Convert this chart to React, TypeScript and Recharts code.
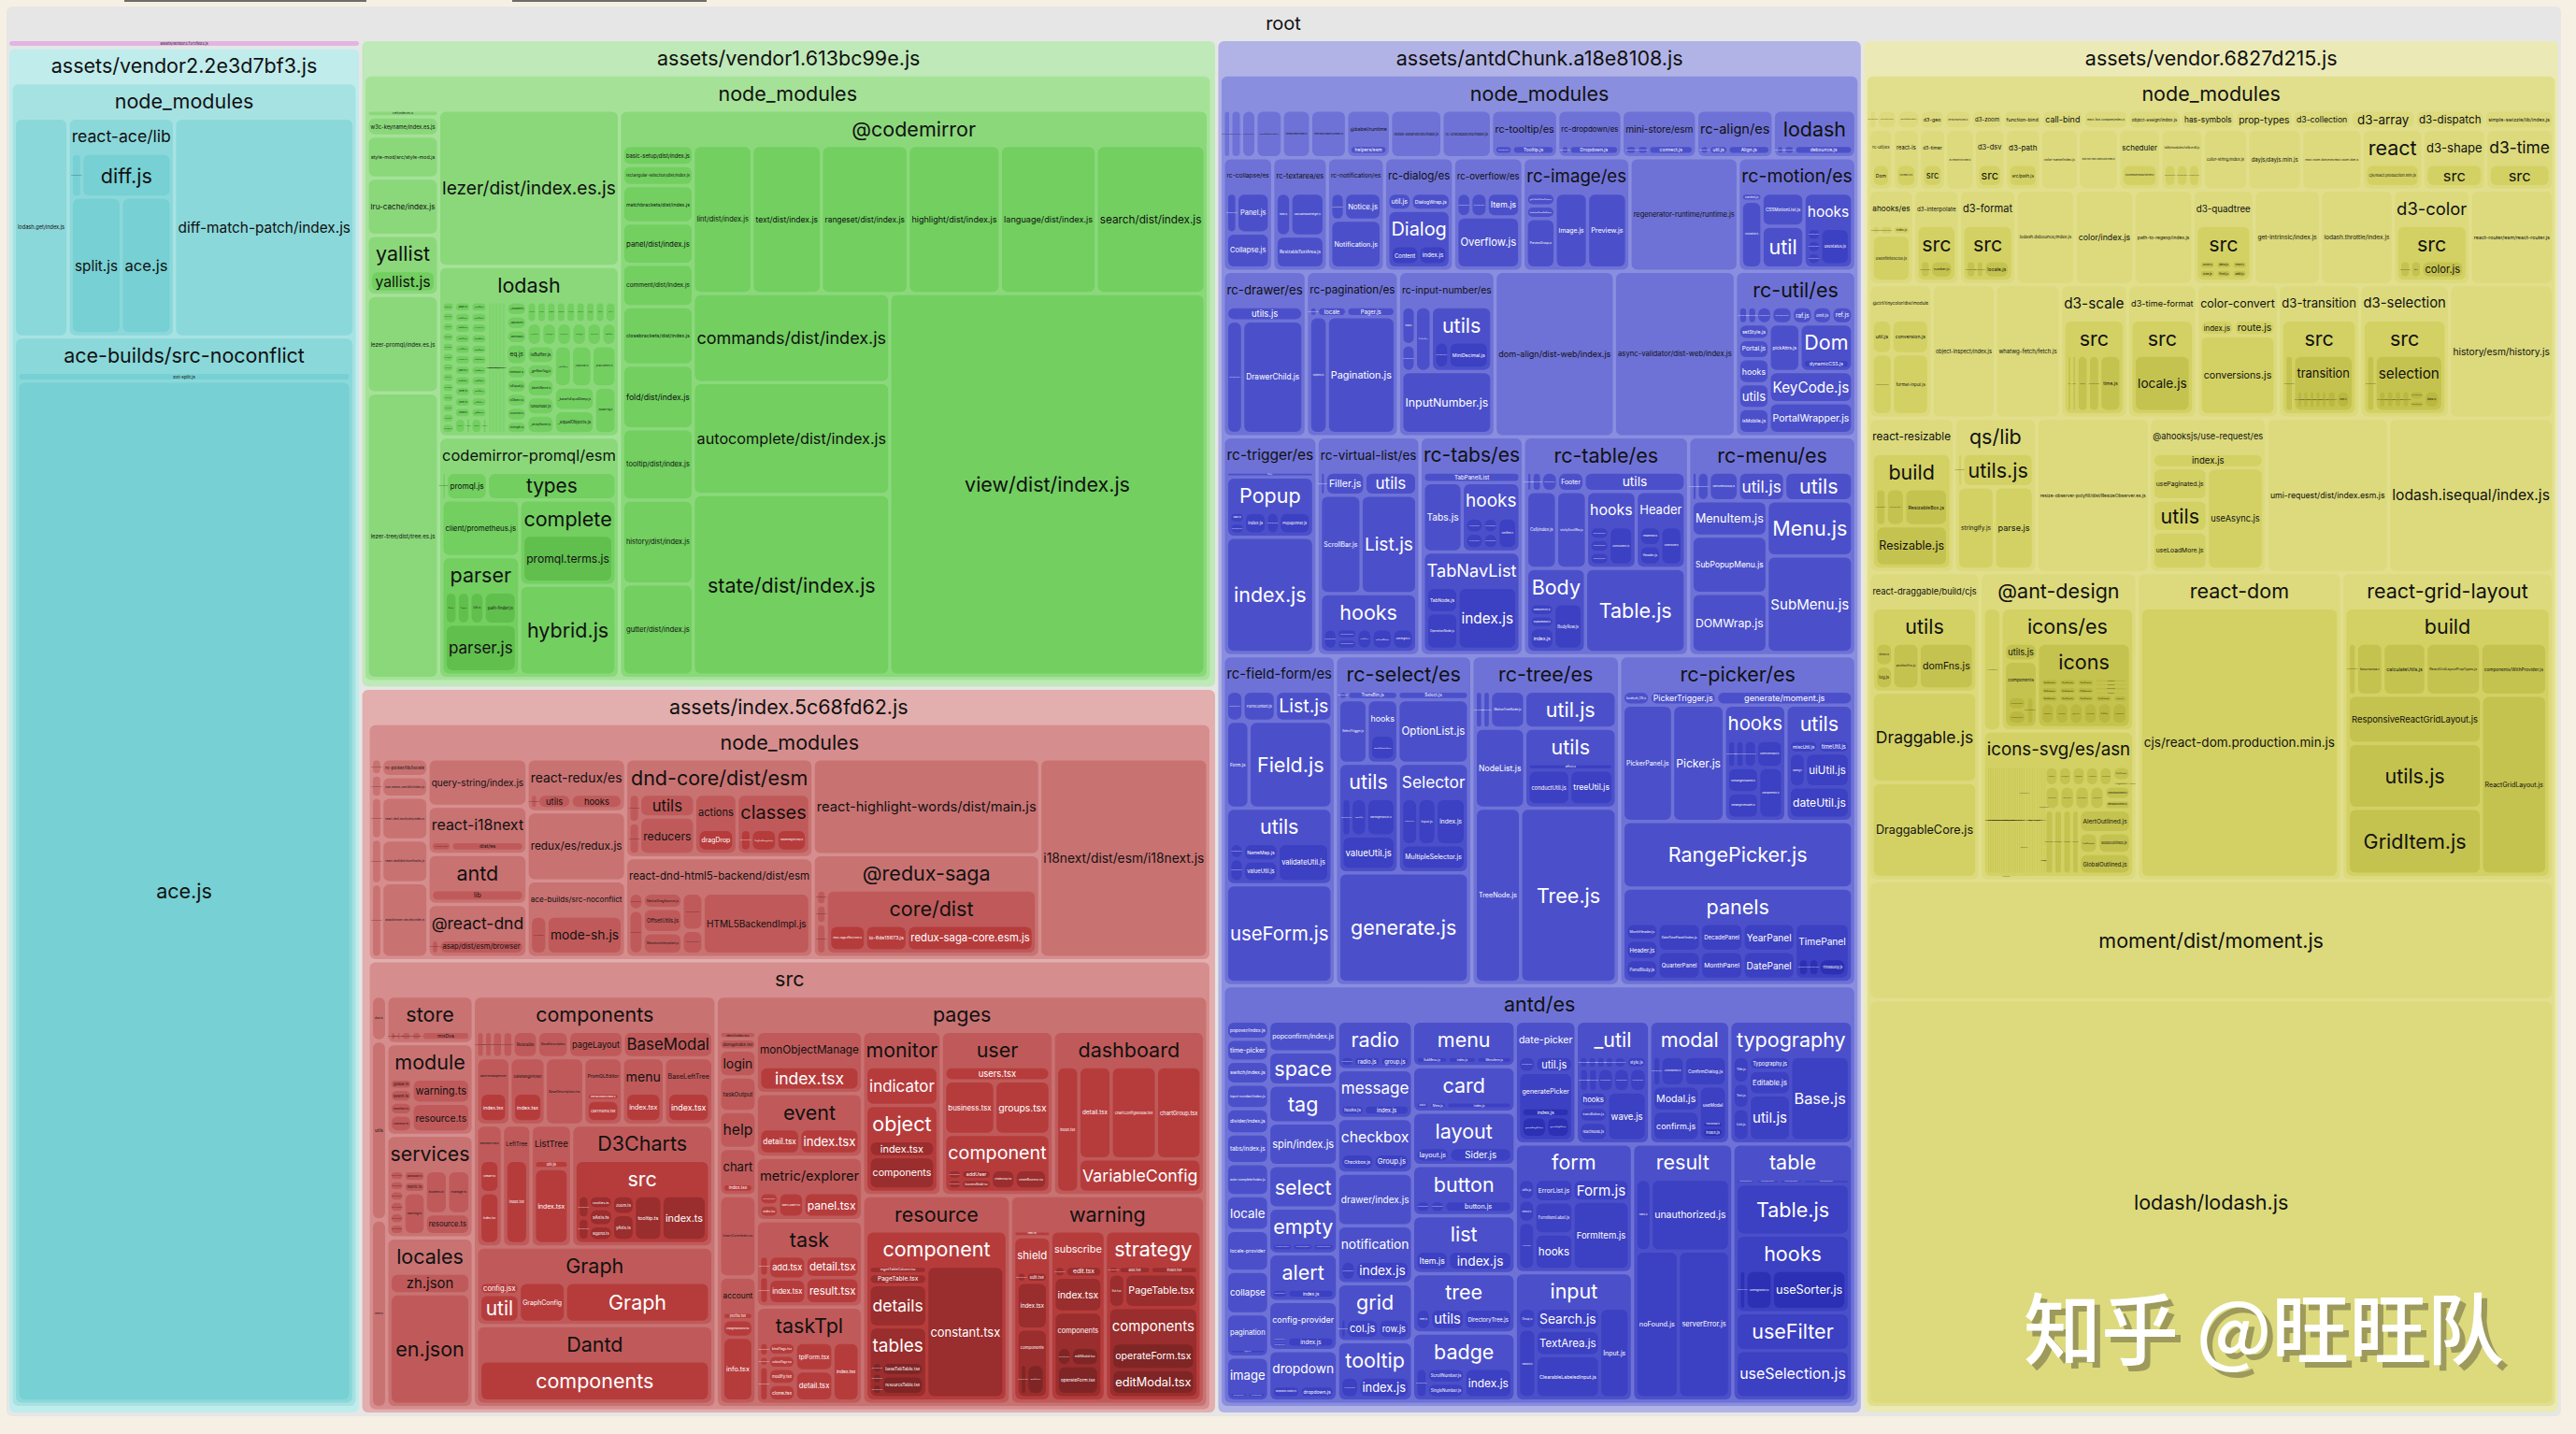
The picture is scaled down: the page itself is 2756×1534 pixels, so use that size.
import { Treemap } from 'recharts';

type Dir = 'h' | 'v';
type Spec = [string, number, Spec[]?, Dir?];
type Box = { x: number; y: number; w: number; h: number };

const g = (name: string, size: number, kids: Spec[], dir?: Dir): Spec => [name, size, kids, dir];
const band = (size: number, kids: Spec[], dir?: Dir): Spec => ['', size, kids, dir];

// sizes are read off the picture, relative to the siblings of each block
// T is for the small boxes whose label can't be read in the picture
const T = 'internal/helpers/index.js';

const reactAce: Spec[] = [
  band(130, [[T, 22], ['diff.js', 265]]),
  band(425, [['split.js', 150], ['ace.js', 150]], 'h'),
];
const vendor2Modules: Spec[] = [
  band(231, [['lodash.get/index.js', 54], g('react-ace/lib', 110, reactAce, 'v'), ['diff-match-patch/index.js', 188]], 'h'),
  g('ace-builds/src-noconflict', 1140, [['ext-split.js', 6], ['ace.js', 1090]], 'v'),
];

const lodashColA: Spec[] = [['_addMapEntry.js', 4], ['_addSetEntry.js', 4], ['_arrayFilter.js', 4], ['_arrayIncludes.js', 4], ['_asciiToArray.js', 4], ['_baseAssignIn.js', 4], ['_baseCreate.js', 4], ['_baseEach.js', 4], ['_baseFindIndex.js', 4], ['_baseGetTag.js', 4], ['_baseHasIn.js', 4], ['_baseIndexOf.js', 4], ['_baseIsArguments.js', 4]];
const lodashColB: Spec[] = [['_apply.js', 4], ['_hashClear.js', 4], ['_hashDelete.js', 4], ['_stackClear.js', 4], ['_stackDelete.js', 4], ['_symbolProto.js', 4], ['_nodeUtil.js', 4], ['_freeGlobal.js', 4], ['_toKey.js', 4], ['_isKey.js', 4], ['_isIndex.js', 4], ['_hashGet.js', 4], ['_hashSet.js', 4]];
const lodashColC: Spec[] = [['_arrayMap.js', 4], ['_arrayPush.js', 4], ['_assocIndexOf.js', 4], ['_baseGet.js', 4], ['_baseHas.js', 4], ['_baseTimes.js', 4], ['_baseUnary.js', 4], ['_castPath.js', 4], ['_coreJsData.js', 4], ['_getMapData.js', 4], ['_getNative.js', 4], ['_isMasked.js', 4], ['debounce.js', 4]];
const lodashColD: Spec[] = [['_listCacheGet.js', 4], ['_listCacheSet.js', 4], ['_mapCacheGet.js', 4], ['_mapCacheSet.js', 4], ['_memoizeCapped.js', 4], ['_nativeKeys.js', 4], ['_overArg.js', 4], ['_setToArray.js', 4], ['_stackGet.js', 4], ['_stackSet.js', 4], ['_toSource.js', 4], ['hasIn.js', 4], ['isArray.js', 4]];
const lodashColE: Spec[] = [['_ListCache.js', 5], ['_MapCache.js', 5], ['_baseIsMap.js', 5], ['eq.js', 9], ['memoize.js', 5], ['isEqual.js', 5], ['isObject.js', 5], ['isFunction.js', 5], ['isLength.js', 5]];
const lodashRowF: Spec[] = [['_DataView.js', 4], ['_Promise.js', 4], ['_WeakMap.js', 4], ['_Uint8Array.js', 4], ['_SetCache.js', 4], ['_arrayEach.js', 4], ['_getTag.js', 4], ['_hasPath.js', 4], ['_keysIn.js', 4]];
const lodashRowG: Spec[] = [['_baseKeys.js', 4], ['_baseAssign.js', 4], ['_baseClone.js', 4], ['_baseMerge.js', 4], ['_baseFlatten.js', 4], ['_baseFor.js', 4]];
const lodashColH: Spec[] = [['isBuffer.js', 5], ['_getRawTag.js', 4], ['_baseIsNative.js', 5], ['toNumber.js', 5], ['_arraySome.js', 5]];
const lodashTail: Spec[] = [
  band(100, [['_cacheHas.js', 4], ['_copyArray.js', 5], ['_arrayLikeKeys.js', 6]], 'h'),
  band(115, [
    band(130, [['_baseIsEqualDeep.js', 5], ['_equalObjects.js', 5]], 'v'),
    ['_equalByTag.js', 65],
  ], 'h'),
];
const lodashFiles: Spec[] = [
  band(32, lodashColA, 'v'), band(46, lodashColB, 'v'), band(46, lodashColC, 'v'), band(56, lodashColD, 'v'), band(60, lodashColE, 'v'),
  band(300, [band(45, lodashRowF, 'h'), band(50, lodashRowG, 'h'), band(215, [band(85, lodashColH, 'v'), band(205, lodashTail, 'v')], 'h')], 'v'),
];

const parserKids: Spec[] = [
  band(65, [['Node.js', 24], ['Type.js', 26], ['Util.js', 30], ['path-finder.js', 80]], 'h'),
  ['parser.js', 100],
];
const promqlKids: Spec[] = [
  band(68, [[T, 4], ['promql.js', 120], ['types', 400]], 'h'),
  band(480, [
    band(240, [['client/prometheus.js', 120], g('parser', 260, parserKids, 'v')], 'v'),
    band(300, [g('complete', 190, [['promql.terms.js', 1]]), ['hybrid.js', 200]], 'v'),
  ], 'h'),
];
const vendor1ColA: Spec[] = [
  ['crelt/index.es.js', 8], ['w3c-keyname/index.es.js', 38], ['style-mod/src/style-mod.js', 92], ['lru-cache/index.js', 128],
  g('yallist', 135, [['yallist.js', 1]]), ['lezer-promql/index.es.js', 223], ['lezer-tree/dist/tree.es.js', 670],
];
const vendor1ColB: Spec[] = [
  ['lezer/dist/index.es.js', 365], g('lodash', 399, lodashFiles, 'h'), g('codemirror-promql/esm', 568, promqlKids, 'v'),
];
const codemirrorColL: Spec[] = [
  ['basic-setup/dist/index.js', 40], ['rectangular-selection/dist/index.js', 40], ['matchbrackets/dist/index.js', 80],
  ['panel/dist/index.js', 90], ['comment/dist/index.js', 92], ['closebrackets/dist/index.js', 130],
  ['fold/dist/index.js', 143], ['tooltip/dist/index.js', 160], ['history/dist/index.js', 190], ['gutter/dist/index.js', 207],
];
const codemirrorTop: Spec[] = [
  ['lint/dist/index.js', 145], ['text/dist/index.js', 172], ['rangeset/dist/index.js', 218],
  ['highlight/dist/index.js', 232], ['language/dist/index.js', 242], ['search/dist/index.js', 275],
];
const codemirrorMid: Spec[] = [['commands/dist/index.js', 203], ['autocomplete/dist/index.js', 257], ['state/dist/index.js', 420]];
const codemirrorKids: Spec[] = [
  band(72, codemirrorColL, 'v'),
  band(543, [band(155, codemirrorTop, 'h'), band(405, [band(206, codemirrorMid, 'v'), ['view/dist/index.js', 333]], 'h')], 'v'),
];
const vendor1Modules: Spec[] = [band(73, vendor1ColA, 'v'), band(190, vendor1ColB, 'v'), g('@codemirror', 627, codemirrorKids, 'h')];

const indexColA: Spec[] = [[T, 40], [T, 60], [T, 120], [T, 130], [T, 220]];
const indexColB: Spec[] = [['rc-picker/lib/locale', 45], ['use-memo-one/dist/index.js', 55], ['react-dnd-touch/dist/index.js', 125], ['react-dnd/dist/esm/hooks.js', 125], ['asap/browser-raw/dist/index.js', 225]];
const indexColC: Spec[] = [
  ['query-string/index.js', 140],
  g('react-i18next', 142, [[T, 30], ['dist/es', 125]], 'h'),
  g('antd', 148, [['lib', 1]]),
  g('@react-dnd', 158, [[T, 8], ['asap/dist/esm/browser', 150]], 'h'),
];
const indexColD: Spec[] = [
  g('react-redux/es', 158, [[T, 8], ['utils', 60], ['hooks', 95]], 'h'),
  ['redux/es/redux.js', 210],
  g('ace-builds/src-noconflict', 233, [[T, 25], ['mode-sh.js', 135]], 'h'),
];
const dndCore: Spec[] = [
  band(14, [[T, 70], [T, 80]], 'v'),
  band(95, [['utils', 60], ['reducers', 105]], 'v'),
  g('actions', 72, [['dragDrop', 1]]),
  g('classes', 128, [[T, 14], ['DragDropManagerImpl.js', 42], ['HandlerRegistryImpl.js', 50]], 'h'),
];
const html5Backend: Spec[] = [
  band(20, [[T, 30], [T, 90]], 'v'),
  band(65, [['NativeDragSource.js', 40], ['OffsetUtils.js', 70], ['MonotonicInterpolant.js', 60]], 'v'),
  band(32, [[T, 100], [T, 60]], 'v'),
  ['HTML5BackendImpl.js', 190],
];
const indexColE: Spec[] = [g('dnd-core/dist/esm', 305, dndCore, 'h'), g('react-dnd-html5-backend/dist/esm', 307, html5Backend, 'h')];
const sagaCore: Spec[] = [['redux-saga-effects.esm.js', 60], ['io-6de15673.js', 70], ['redux-saga-core.esm.js', 225]];
const indexColF: Spec[] = [
  ['react-highlight-words/dist/main.js', 295],
  g('@redux-saga', 318, [band(12, [[T, 30], [T, 40], [T, 70]], 'v'), g('core/dist', 380, sagaCore, 'h')], 'h'),
];
const indexModules: Spec[] = [
  band(13, indexColA, 'v'), band(79, indexColB, 'v'), band(177, indexColC, 'v'), band(176, indexColD, 'v'), band(340, indexColE, 'v'), band(412, indexColF, 'v'),
  ['i18next/dist/esm/i18next.js', 304],
];

const srcCol: Spec[] = [['dao.ts', 130], ['utils', 550], ['theme.ts', 577]];
const srcColB: Spec[] = [
  g('store', 142, [[T, 10], [T, 5], [T, 22], [T, 22], ['mixDva', 140]], 'h'),
  g('module', 282, [
    band(60, [['global.ts', 25], ['event.ts', 35], ['monitor.ts', 35], ['common.ts', 50]], 'v'),
    band(175, [['warning.ts', 65], ['resource.ts', 78]], 'v'),
  ], 'h'),
  g('services', 317, [
    band(35, [[T, 25], [T, 25], [T, 28], [T, 30], [T, 30], [T, 30]], 'v'),
    band(60, [['dashboard.ts', 25], ['metric.ts', 25], ['warning.ts', 125]], 'v'),
    band(135, [band(125, [['business.ts', 65], ['manage.ts', 65]], 'h'), ['resource.ts', 55]], 'v'),
  ], 'h'),
  g('locales', 532, [['zh.json', 55], ['en.json', 340]], 'v'),
];
const componentsRow1: Spec[] = [[T, 14], [T, 14], [T, 22], [T, 22], ['Resizable', 65], ['BaseDescription', 85], ['pageLayout', 158], ['BaseModal', 270]];
const componentsRow2: Spec[] = [
  g('DateTimeRangePicker', 95, [['index.tsx', 1]]),
  g('DateRangePicker', 102, [['index.tsx', 1]]),
  ['BaseDescription.tsx', 112],
  g('PromQLEditor', 113, [[T, 12], ['CMTheme.tsx', 60]], 'v'),
  g('menu', 120, [['index.tsx', 1]]),
  g('BaseLeftTree', 140, [['index.tsx', 1]]),
];
const d3Src: Spec[] = [
  band(25, [[T, 45], [T, 45]], 'v'),
  band(65, [['cookies.ts', 25], ['xAxis.ts', 35], ['legend.ts', 30]], 'v'),
  band(60, [['zoom.ts', 40], ['yAxis.ts', 60]], 'v'),
  ['tooltip.ts', 78], ['index.ts', 130],
];
const componentsRow3: Spec[] = [
  g('BaseSearchInput', 73, [['useBase.tsx', 90], ['index.tsx', 150]], 'v'),
  g('LeftTree', 80, [['index.tsx', 1]]),
  g('ListTree', 118, [['util.js', 15], ['index.tsx', 230]], 'v'),
  g('D3Charts', 437, [g('src', 1, d3Src, 'h')]),
];
const graphKids: Spec[] = [band(115, [['config.jsx', 30], ['util', 80]], 'v'), ['GraphConfig', 135], ['Graph', 445]];
const componentsKids: Spec[] = [
  band(75, componentsRow1, 'h'), band(205, componentsRow2, 'h'), band(380, componentsRow3, 'h'),
  g('Graph', 242, graphKids, 'h'), g('Dantd', 238, [['components', 1]]),
];
const pagesCol1: Spec[] = [
  ['dem/index.tsx', 14], ['dem@index.tsx', 25], ['login', 75], ['taskOutput', 100], ['help', 107],
  g('chart', 140, [['index.tsx', 1]]), ['historyCurrentIndex.tsx', 248],
  g('account', 395, [['profile.tsx', 14], ['changePassword.tsx', 45], ['info.tsx', 195]], 'v'),
];
const pagesCol2: Spec[] = [
  g('monObjectManage', 188, [['index.tsx', 1]]),
  g('event', 193, [['detail.tsx', 115], ['index.tsx', 175]], 'h'),
  g('metric/explorer', 192, [band(50, [[T, 30], ['index.tsx', 30]], 'v'), ['labels-panel.tsx', 70], ['panel.tsx', 165]], 'h'),
  g('task', 265, [band(18, [[T, 50], [T, 70]], 'v'), band(105, [['add.tsx', 60], ['index.tsx', 65]], 'v'), band(155, [['detail.tsx', 60], ['result.tsx', 75]], 'v')], 'h'),
  g('taskTpl', 300, [
    band(18, [[T, 30], [T, 20], [T, 90]], 'v'),
    band(75, [['bindTags.tsx', 30], ['unbindTags.tsx', 30], ['modify.tsx', 40], ['clone.tsx', 40]], 'v'),
    band(110, [['tplForm.tsx', 80], ['detail.tsx', 85]], 'v'),
    ['index.tsx', 75],
  ], 'h'),
];
const pagesMonitor: Spec[] = [['indicator', 115], g('object', 270, [['index.tsx', 40], ['components', 90]], 'v')];
const pagesUser: Spec[] = [
  ['users.tsx', 35],
  band(160, [['business.tsx', 145], ['groups.tsx', 160]], 'h'),
  g('component', 175, [band(125, [band(35, [[T, 12], [T, 12]], 'v'), band(90, [['addUser', 12], ['businessModal.tsx', 12]], 'v')], 'h'), ['createGroup.tsx', 65], ['createBusiness.tsx', 90]], 'h'),
];
const pagesDashboard: Spec[] = [
  ['index.tsx', 60],
  band(375, [band(285, [['detail.tsx', 90], ['chartConfigModal.tsx', 130], ['chartGroup.tsx', 130]], 'h'), ['VariableConfig', 95]], 'v'),
];
const resourceComponent: Spec[] = [
  band(170, [
    ['mgmtTableColumn.tsx', 13], ['PageTable.tsx', 25], ['details', 125],
    g('tables', 215, [band(20, [[T, 10], [T, 10], [T, 10]], 'v'), band(125, [['baseTabTable.tsx', 30], ['resourceTable.tsx', 45]], 'v')], 'h'),
  ], 'v'),
  ['constant.tsx', 230],
];
const warningShield: Spec[] = [
  band(22, [[T, 20], ['edit.tsx', 60]], 'h'), ['index.tsx', 135],
  g('components', 205, [band(14, [[T, 30]]), ['operateForm.tsx', 60]], 'h'),
];
const warningSubscribe: Spec[] = [
  band(25, [[T, 25], ['edit.tsx', 100]], 'h'), ['index.tsx', 100],
  g('components', 260, [band(50, [[T, 35], ['editModal.tsx', 80]], 'h'), ['operateForm.tsx', 85]], 'v'),
];
const warningStrategy: Spec[] = [
  band(14, [[T, 20], ['add.tsx', 85], ['index.tsx', 130]], 'h'),
  band(95, [['list.tsx', 40], ['PageTable.tsx', 215]], 'h'),
  g('components', 270, [['operateForm.tsx', 75], ['editModal.tsx', 70]], 'v'),
];
const pagesRight: Spec[] = [
  band(516, [g('monitor', 238, pagesMonitor, 'v'), g('user', 342, pagesUser, 'v'), g('dashboard', 465, pagesDashboard, 'h')], 'h'),
  band(658, [
    g('resource', 455, [g('component', 1, resourceComponent, 'h')]),
    g('warning', 600, [
      band(105, [['index.tsx', 8], g('shield', 520, warningShield, 'v')], 'v'),
      g('subscribe', 160, warningSubscribe, 'v'),
      g('strategy', 290, warningStrategy, 'v'),
    ], 'h'),
  ], 'h'),
];
const srcFolders: Spec[] = [
  band(13, srcCol, 'v'), band(89, srcColB, 'v'),
  g('components', 256, componentsKids, 'v'),
  g('pages', 521, [band(106, pagesCol1, 'v'), band(325, pagesCol2, 'v'), band(1070, pagesRight, 'v')], 'h'),
];

const indexChunk: Spec[] = [g('node_modules', 250, indexModules, 'h'), g('src', 478, srcFolders, 'h')];

const antdRow1: Spec[] = [
  [T, 10], [T, 18], [T, 26], [T, 55], [T, 60], [T, 78],
  g('@babel/runtime', 97, [['helpers/esm', 1]]), ['resize-observer/es/index.js', 115], ['rc-checkbox/es/index.js', 110],
  g('rc-tooltip/es', 150, [[T, 30], ['Tooltip.js', 80]], 'h'),
  g('rc-dropdown/es', 145, [[T, 12], ['Dropdown.js', 115]], 'h'),
  g('mini-store/esm', 170, [[T, 20], [T, 20], ['connect.js', 100]], 'h'),
  g('rc-align/es', 175, [[T, 15], ['util.js', 40], ['Align.js', 100]], 'h'),
  g('lodash', 190, [[T, 10], [T, 18], ['debounce.js', 130]], 'h'),
];
const antdRow2: Spec[] = [
  g('rc-collapse/es', 110, [band(115, [[T, 18], ['Panel.js', 72]], 'h'), ['Collapse.js', 100]], 'v'),
  g('rc-textarea/es', 122, [band(125, [['index.js', 28], ['calculateNodeHeight.js', 72]], 'h'), ['ResizableTextArea.js', 90]], 'v'),
  g('rc-notification/es', 128, [band(75, [[T, 25], ['Notice.js', 80]], 'h'), ['Notification.js', 140]], 'v'),
  g('rc-dialog/es', 157, [band(45, [['util.js', 48], ['DialogWrap.js', 85]], 'h'), g('Dialog', 175, [['Content', 60], ['index.js', 60]], 'h')], 'v'),
  g('rc-overflow/es', 158, [band(65, [[T, 25], [T, 30], ['Item.js', 68]], 'h'), ['Overflow.js', 150]], 'v'),
  g('rc-image/es', 247, [band(60, [['getFixScaleEleTransPosition.js', 30], ['hooks/useFrameSetState.js', 30], ['PreviewGroup.js', 145]], 'v'), ['Image.js', 68], ['Preview.js', 85]], 'h'),
  ['regenerator-runtime/runtime.js', 250],
  g('rc-motion/es', 272, [
    band(40, [['context.js', 15], ['CSSMotion.js', 190]], 'v'),
    band(90, [['CSSMotionList.js', 90], ['util', 115]], 'v'),
    g('hooks', 105, [band(20, [[T, 40], [T, 40], [T, 40]], 'v'), ['useStatus.js', 50]], 'h'),
  ], 'h'),
];
const rcUtilBottom: Spec[] = [
  band(65, [['setStyle.js', 35], ['Portal.js', 45], ['hooks', 60], ['utils', 60], ['isMobile.js', 60]], 'v'),
  band(190, [band(130, [['pickAttrs.js', 65], g('Dom', 115, [['dynamicCSS.js', 1]])], 'h'), ['KeyCode.js', 80], ['PortalWrapper.js', 80]], 'v'),
];
const antdRow3: Spec[] = [
  g('rc-drawer/es', 190, [['utils.js', 35], band(345, [[T, 30], ['DrawerChild.js', 135]], 'h')], 'v'),
  g('rc-pagination/es', 212, [band(22, [[T, 10], ['locale', 60], ['Pager.js', 105]], 'h'), band(370, [['Options.js', 35], ['Pagination.js', 155]], 'h')], 'v'),
  g('rc-input-number/es', 222, [
    band(195, [band(25, [['hooks', 60], [T, 40]], 'v'), ['StepHandler.js', 30], g('utils', 135, [[T, 25], ['MiniDecimal.js', 85]], 'h')], 'h'),
    ['InputNumber.js', 185],
  ], 'v'),
  ['dom-align/dist-web/index.js', 277], ['async-validator/dist-web/index.js', 280],
  g('rc-util/es', 280, [
    band(45, [[T, 13], [T, 13], [T, 26], [T, 38], ['raf.js', 38], ['omit.js', 35], ['ref.js', 38]], 'h'),
    band(340, rcUtilBottom, 'h'),
  ], 'v'),
];
const antdRow4: Spec[] = [
  g('rc-trigger/es', 215, [
    ['Mask.js', 5],
    g('Popup', 160, [band(30, [['Mask.js', 10], [T, 10]], 'v'), ['index.js', 50], [T, 25], ['PopupInner.js', 75]], 'h'),
    ['index.js', 315],
  ], 'v'),
  g('rc-virtual-list/es', 237, [
    band(55, [[T, 5], ['Filler.js', 85], ['utils', 115]], 'h'),
    band(265, [['ScrollBar.js', 90], ['List.js', 125]], 'h'),
    g('hooks', 155, [[T, 25], band(40, [[T, 1], [T, 1]], 'v'), ['useDiffItem.js', 28], ['useFrameWheel.js', 42], ['useHeights.js', 42]], 'h'),
  ], 'v'),
  g('rc-tabs/es', 238, [
    ['TabPanelList', 20],
    band(180, [['Tabs.js', 85], g('hooks', 130, [band(45, [[T, 1], [T, 1]], 'v'), band(35, [[T, 1], [T, 1]], 'v'), ['useOffsets.js', 50]], 'h')], 'h'),
    g('TabNavList', 265, [band(65, [['TabNode.js', 60], ['OperationNode.js', 90]], 'v'), ['index.js', 130]], 'h'),
  ], 'v'),
  g('rc-table/es', 385, [
    band(45, [[T, 5], [T, 15], [T, 30], ['Footer', 55], ['utils', 230]], 'h'),
    band(205, [
      ['Cell/index.js', 62], ['stickyScrollBar.js', 62],
      g('hooks', 108, [band(40, [[T, 1], [T, 1], [T, 1]], 'v'), ['useColumns.js', 50]], 'h'),
      g('Header', 108, [band(50, [['HeaderRow.js', 1], ['Header.js', 1]], 'v'), ['FixedHolder.js', 50]], 'h'),
    ], 'h'),
    band(225, [
      g('Body', 130, [band(50, [['MeasureCell.js', 1], ['ExpandedRow.js', 1], ['index.js', 2]], 'v'), ['BodyRow.js', 60]], 'h'),
      ['Table.js', 225],
    ], 'h'),
  ], 'v'),
  g('rc-menu/es', 390, [
    band(70, [[T, 5], [T, 20], ['MenuItemGroup.js', 60], ['util.js', 100], ['utils', 150]], 'h'),
    band(410, [band(170, [['MenuItem.js', 90], ['SubPopupMenu.js', 150], ['DOMWrap.js', 155]], 'v'), band(195, [['Menu.js', 145], ['SubMenu.js', 260]], 'v')], 'h'),
  ], 'v'),
];
const rcPickerHooks: Spec[] = [
  band(65, [[T, 15], [T, 15], [T, 25], ['usePickerInput.js', 65]], 'h'),
  band(130, [band(75, [['useRangeDisabled.js', 60], ['useRangeViewDates.js', 60]], 'v'), ['useValueTexts.js', 55]], 'h'),
];
const rcPickerUtils: Spec[] = [
  band(20, [['miscUtil.js', 60], ['timeUtil.js', 65]], 'h'),
  band(65, [['warning.js', 30], ['uiUtil.js', 95]], 'h'),
  ['dateUtil.js', 60],
];
const rcPickerPanels: Spec[] = [
  band(65, [['MonthHeader.js', 24], ['Header.js', 30], ['PanelBody.js', 30]], 'v'),
  band(90, [['DateTimePanel/index.js', 54], ['QuarterPanel', 54]], 'v'),
  band(90, [['DecadePanel', 50], ['MonthPanel', 50]], 'v'),
  band(110, [['YearPanel', 50], ['DatePanel', 50]], 'v'),
  g('TimePanel', 112, [[T, 18], [T, 18], ['TimeBody.js', 60]], 'h'),
];
const antdRow5: Spec[] = [
  g('rc-field-form/es', 260, [
    band(75, [[T, 30], ['FormContext.js', 65], ['List.js', 120]], 'h'),
    band(235, [['Form.js', 45], ['Field.js', 185]], 'h'),
    g('utils', 205, [band(25, [[T, 30], [T, 50]], 'v'), band(75, [['NameMap.js', 40], ['valueUtil.js', 50]], 'v'), ['validateUtil.js', 115]], 'h'),
    ['useForm.js', 265],
  ], 'v'),
  g('rc-select/es', 318, [
    band(15, [[T, 12], ['TransBtn.js', 105], ['Select.js', 150]], 'h'),
    band(170, [['SelectTrigger.js', 60], g('hooks', 65, [[T, 1]]), ['OptionList.js', 160]], 'h'),
    band(300, [
      g('utils', 135, [band(90, [[T, 14], ['commonUtil.js', 30], ['warningPropsUtil.js', 60]], 'h'), ['valueUtil.js', 80]], 'v'),
      g('Selector', 160, [band(120, [['MultipleSelector.js', 30], ['Input.js', 35], ['index.js', 60]], 'h'), ['MultipleSelector.js', 60]], 'v'),
    ], 'h'),
    ['generate.js', 300],
  ], 'v'),
  g('rc-tree/es', 345, [
    band(95, [[T, 10], [T, 10], ['MotionTreeNode.js', 70], ['util.js', 200]], 'h'),
    band(215, [['NodeList.js', 110], g('utils', 210, [['diffUtil.js', 10], band(100, [['conductUtil.js', 90], ['treeUtil.js', 95]], 'h')], 'v')], 'h'),
    band(480, [['TreeNode.js', 100], ['Tree.js', 220]], 'h'),
  ], 'v'),
  g('rc-picker/es', 557, [
    band(30, [['locale/zh_CN.js', 55], ['PickerTrigger.js', 150], ['generate/moment.js', 315]], 'h'),
    band(320, [['PickerPanel.js', 110], ['Picker.js', 115], g('hooks', 140, rcPickerHooks, 'v'), g('utils', 150, rcPickerUtils, 'v')], 'h'),
    ['RangePicker.js', 180],
    g('panels', 260, rcPickerPanels, 'h'),
  ], 'v'),
];

const antdEsCol1: Spec[] = [
  ['popover/index.js', 47], ['time-picker', 60], ['switch/index.js', 62], ['input-number/index.js', 68], ['divider/index.js', 70],
  ['tabs/index.js', 85], ['auto-complete/index.js', 92], ['locale', 100], ['locale-provider', 120], ['collapse', 125],
  g('pagination', 128, [['Pagination.js', 1]]), g('image', 130, [[T, 1], [T, 1]], 'h'),
];
const antdEsCol2: Spec[] = [
  ['popconfirm/index.js', 88], ['space', 95], ['tag', 110], ['spin/index.js', 125], ['select', 125],
  g('empty', 135, [[T, 1], [T, 1], [T, 1]], 'h'),
  g('alert', 140, [[T, 30], ['index.js', 105]], 'h'),
  g('config-provider', 145, [band(30, [[T, 1], [T, 1]], 'v'), ['index.js', 110]], 'h'),
  g('dropdown', 150, [['dropdown-button.js', 60], ['dropdown.js', 75]], 'h'),
];
const antdEsCol3: Spec[] = [
  g('radio', 145, [[T, 25], ['radio.js', 60], ['group.js', 65]], 'h'),
  g('message', 145, [['hooks.js', 50], ['index.js', 105]], 'h'),
  g('checkbox', 165, [['Checkbox.js', 70], ['Group.js', 75]], 'h'),
  ['drawer/index.js', 158],
  g('notification', 175, [[T, 28], ['index.js', 125]], 'h'),
  g('grid', 175, [[T, 5], ['col.js', 75], ['row.js', 70]], 'h'),
  g('tooltip', 180, [[T, 38], ['index.js', 120]], 'h'),
];
const antdEsCol4: Spec[] = [
  g('menu', 135, [['SubMenu.js', 80], ['index.js', 70], ['MenuItem.js', 90]], 'h'),
  g('card', 135, [['Grid.js', 25], ['Meta.js', 35], ['index.js', 155]], 'h'),
  g('layout', 160, [['layout.js', 75], ['Sider.js', 145]], 'h'),
  g('button', 150, [[T, 28], [T, 28], ['button.js', 160]], 'h'),
  g('list', 175, [['Item.js', 70], ['index.js', 145]], 'h'),
  g('tree', 180, [['Tree.js', 28], ['utils', 75], ['DirectoryTree.js', 110]], 'h'),
  g('badge', 205, [band(20, [[T, 1]]), band(85, [['ScrollNumber.js', 1], ['SingleNumber.js', 1]], 'v'), ['index.js', 110]], 'h'),
];
const antdEsTop: Spec[] = [
  g('date-picker', 135, [band(45, [[T, 30], ['util.js', 75]], 'h'), g('generatePicker', 225, [['index.js', 40], band(120, [['generateRangePicker.js', 55], ['generateSinglePicker.js', 50]], 'h')], 'v')], 'v'),
  g('_util', 165, [
    band(30, [[T, 8], [T, 8], [T, 8], [T, 8], [T, 14], ['style.js', 24]], 'h'),
    band(70, [[T, 14], [T, 14], [T, 30], [T, 30], [T, 30]], 'h'),
    band(155, [band(60, [['hooks', 40], ['transButton.js', 40], ['reactNode.js', 50]], 'v'), ['wave.js', 85]], 'h'),
  ], 'v'),
  g('modal', 180, [
    band(85, [[T, 12], ['ActionButton.js', 50], ['ConfirmDialog.js', 95]], 'h'),
    band(165, [band(108, [['Modal.js', 70], ['confirm.js', 85]], 'v'), g('useModal', 60, [['HookModal.js', 20], ['index.js', 40]], 'v')], 'h'),
  ], 'v'),
  g('typography', 280, [band(30, [['Title.js', 70], ['Text.js', 65], ['Link.js', 85]], 'v'), band(90, [['Typography.js', 30], ['Editable.js', 60], ['util.js', 120]], 'v'), ['Base.js', 130]], 'h'),
];
const antdEsBottom: Spec[] = [
  band(270, [
    g('form', 403, [
      band(30, [['utils.js', 55], ['FormList.js', 60], ['FormItemInput.js', 140]], 'v'),
      band(80, [['ErrorList.js', 60], ['FormItemLabel.js', 90], ['hooks', 100]], 'v'),
      band(120, [['Form.js', 60], ['FormItem.js', 205]], 'v'),
    ], 'h'),
    g('input', 402, [
      band(35, [['Group.js', 55], ['Password.js', 205]], 'v'),
      band(150, [['Search.js', 60], ['TextArea.js', 70], ['ClearableLabeledInput.js', 120]], 'v'),
      ['Input.js', 65],
    ], 'h'),
  ], 'v'),
  g('result', 230, [band(220, [['index.js', 28], ['unauthorized.js', 175]], 'h'), band(460, [['noFound.js', 92], ['serverError.js', 112]], 'h')], 'v'),
  g('table', 274, [
    band(5, [[T, 40], [T, 50], [T, 50], [T, 100]], 'h'),
    ['Table.js', 150],
    g('hooks', 235, [[T, 8], ['usePagination.js', 50], ['useSorter.js', 155]], 'h'),
    ['useFilter', 110], ['useSelection.js', 135],
  ], 'v'),
];
const antdEsKids: Spec[] = [
  band(93, antdEsCol1, 'v'), band(155, antdEsCol2, 'v'), band(170, antdEsCol3, 'v'), band(236, antdEsCol4, 'v'),
  band(794, [band(385, antdEsTop, 'h'), band(818, antdEsBottom, 'h')], 'v'),
];
const antdModules: Spec[] = [
  band(47, antdRow1, 'h'), band(117, antdRow2, 'h'), band(172, antdRow3, 'h'), band(229, antdRow4, 'h'), band(347, antdRow5, 'h'),
  g('antd/es', 441, antdEsKids, 'h'),
];

const srcOf = (kids: Spec[], dir: Dir = 'h'): Spec[] => [g('src', 1, kids, dir)];
const vendorRow1: Spec[] = [
  [T, 10], [T, 35], [T, 42], ['d3-geo', 45], [T, 50], ['d3-zoom', 60], ['function-bind', 75], ['call-bind', 82], ['react-fast-compare/index.js', 88],
  ['object-assign/index.js', 105], ['has-symbols', 108], ['prop-types', 115], ['d3-collection', 115], ['d3-array', 130], ['d3-dispatch', 140], ['simple-swizzle/lib/index.js', 140],
];
const vendorRow2: Spec[] = [
  g('rc-util/es', 45, [['Dom', 1]]), g('react-is', 50, [['cjs/react-is.js', 1]]), g('d3-timer', 50, [['src', 1]]), ['d3-hierarchy/src/index.js', 55],
  g('d3-dsv', 60, [['src', 1]]), g('d3-path', 70, [['src/path.js', 1]]), ['color-name/index.js', 75], ['hoist-non-react-statics/dist/index.js', 80],
  g('scheduler', 85, [['cjs/scheduler.production.min.js', 1]]), g('tslib/modules/tslib.es6.js', 85, [[T, 2], [T, 2], [T, 2]], 'h'),
  ['color-string/index.js', 90], ['dayjs/dayjs.min.js', 110], ['react-router-dom/esm/react-router-dom.js', 125],
  g('react', 125, [['cjs/react.production.min.js', 1]]), g('d3-shape', 130, [['src', 1]]), g('d3-time', 140, [['src', 1]]),
];
const vendorRow3: Spec[] = [
  g('ahooks/es', 90, [band(20, [[T, 10], [T, 20], ['index.js', 30]], 'h'), ['useInfiniteScroll.js', 135]], 'v'),
  g('d3-interpolate', 92, srcOf([[T, 14], ['number.js', 40]])),
  g('d3-format', 115, srcOf([[T, 12], [T, 8], ['locale.js', 40]])),
  ['lodash.debounce/index.js', 120], ['color/index.js', 120], ['path-to-regexp/index.js', 120],
  g('d3-quadtree', 125, srcOf([band(20, [['cover.js', 1], ['size.js', 1]], 'v'), band(20, [['data.js', 1], ['find.js', 1]], 'v'), band(20, [['remove.js', 1], ['add.js', 1]], 'v')])),
  ['get-intrinsic/index.js', 137], ['lodash.throttle/index.js', 150],
  g('d3-color', 160, srcOf([[T, 14], ['lab.js', 14], ['color.js', 70]])),
  ['react-router/esm/react-router.js', 175],
];
const d3TransitionKids: Spec[] = [[T, 12], g('transition', 140, [band(100, [[T, 1], [T, 1], [T, 1], [T, 1], [T, 1], [T, 1]], 'h'), ['index.js', 30]], 'h')];
const d3SelectionKids: Spec[] = [[T, 12], g('selection', 140, [band(100, [[T, 1], [T, 1], [T, 1], [T, 1], [T, 1], [T, 1]], 'h'), ['data.js', 30]], 'h')];
const vendorRow4: Spec[] = [
  g('@ctrl/tinycolor/dist/module', 130, [band(95, [['util.js', 35], ['conversion.js', 75]], 'h'), band(180, [[T, 35], ['format-input.js', 70]], 'h')], 'v'),
  ['object-inspect/index.js', 132], ['whatwg-fetch/fetch.js', 135],
  g('d3-scale', 140, srcOf([band(40, [['nice.js', 15], ['linear.js', 20], ['continuous.js', 45]], 'v'), [T, 18], ['time.js', 40]])),
  g('d3-time-format', 143, srcOf([['locale.js', 1]])),
  g('color-convert', 173, [band(40, [['index.js', 70], ['route.js', 85]], 'h'), ['conversions.js', 235]], 'v'),
  g('d3-transition', 170, srcOf(d3TransitionKids)),
  g('d3-selection', 190, srcOf(d3SelectionKids)),
  ['history/esm/history.js', 205],
];
const vendorRow5: Spec[] = [
  g('react-resizable', 178, [g('build', 1, [band(105, [[T, 15], [T, 30], ['ResizableBox.js', 80]], 'h'), ['Resizable.js', 115]], 'v')]),
  g('qs/lib', 172, [band(95, [[T, 5], ['utils.js', 150]], 'h'), band(250, [['stringify.js', 78], ['parse.js', 82]], 'h')], 'v'),
  ['resize-observer-polyfill/dist/ResizeObserver.es.js', 238],
  g('@ahooksjs/use-request/es', 248, [['index.js', 35], band(310, [band(110, [['usePaginated.js', 90], ['utils', 90], ['useLoadMore.js', 105]], 'v'), ['useAsync.js', 115]], 'h')], 'v'),
  ['umi-request/dist/index.esm.js', 258], ['lodash.isequal/index.js', 350],
];
const iconsRowA: Spec[] = [['BarsOutlined.js', 2], ['CheckOutlined.js', 2], ['CloseOutlined.js', 2], ['CopyOutlined.js', 2], ['DownOutlined.js', 2]];
const iconsRowB: Spec[] = [['EditOutlined.js', 2], ['EyeOutlined.js', 2], ['FileOutlined.js', 2], ['HolderOutlined.js', 2], ['LeftOutlined.js', 2]];
const iconsRowC: Spec[] = [['PlusOutlined.js', 1], ['RedoOutlined.js', 1], ['RightOutlined.js', 1], ['SearchOutlined.js', 1], ['StarFilled.js', 1], ['SwapOutlined.js', 1]];
const iconsKids: Spec[] = [band(100, [band(40, iconsRowA, 'h'), band(40, iconsRowB, 'h'), band(40, iconsRowA, 'h')], 'v'), band(90, iconsRowC, 'h')];
const asnColA: Spec[] = [['BarsOutlined.js', 2], ['CalendarOutlined.js', 2], ['CaretDownFilled.js', 2], ['CaretDownOutlined.js', 2], ['CaretUpOutlined.js', 2], ['CheckCircleFilled.js', 2], ['CheckCircleOutlined.js', 2], ['CheckOutlined.js', 2], ['ClockCircleOutlined.js', 2], ['CloseCircleFilled.js', 2], ['CloseOutlined.js', 2], ['CopyOutlined.js', 2], ['DeleteOutlined.js', 2]];
const asnColB: Spec[] = [['DoubleLeftOutlined.js', 2], ['DoubleRightOutlined.js', 2], ['DownOutlined.js', 2], ['EditOutlined.js', 2], ['EllipsisOutlined.js', 2], ['EnterOutlined.js', 2], ['ExclamationCircleFilled.js', 2], ['EyeOutlined.js', 2], ['FileOutlined.js', 2], ['FilterFilled.js', 2], ['FolderOpenOutlined.js', 2], ['HolderOutlined.js', 2]];
const asnColC: Spec[] = [['InfoCircleFilled.js', 2], ['LeftOutlined.js', 2], ['LoadingOutlined.js', 2], ['MinusSquareOutlined.js', 2], ['PlusOutlined.js', 2], ['RightOutlined.js', 2], ['RotateLeftOutlined.js', 2], ['RotateRightOutlined.js', 2], ['SearchOutlined.js', 2], ['SwapRightOutlined.js', 2]];
const asnRowA: Spec[] = [['UpOutlined.js', 1], ['VerticalAlignTop.js', 1], ['WarningFilled.js', 1], ['ZoomInOutlined.js', 1], ['ZoomOutOutlined.js', 1], ['PicLeftOutlined.js', 1], ['PicRightOutlined.js', 1], ['StarOutlined.js', 1]];
const asnRowB: Spec[] = [['MenuOutlined.js', 1], ['MoreOutlined.js', 1], ['PaperClipOutlined.js', 1], ['PictureOutlined.js', 1], ['QuestionOutlined.js', 1], ['ReloadOutlined.js', 1]];
const asnTail: Spec[] = [
  band(80, [['AppstoreOutlined.js', 4], ['BorderOutlined.js', 4], ['DashOutlined.js', 4], ['FileTwoTone.js', 4]], 'v'),
  band(120, [
    ['AlertOutlined.js', 50],
    band(95, [band(60, [['CodeOutlined.js', 25], ['BoldOutlined.js', 50]], 'h'), ['GlobalOutlined.js', 60]], 'v'),
  ], 'v'),
];
const asnKids: Spec[] = [
  band(40, asnColA, 'v'), band(40, asnColB, 'v'), band(40, asnColC, 'v'),
  band(200, [band(55, asnRowA, 'h'), band(70, asnRowB, 'h'), band(200, asnTail, 'h')], 'v'),
];
const vendorRow6: Spec[] = [
  g('react-draggable/build/cjs', 235, [
    g('utils', 255, [band(30, [['shims.js', 1], ['log.js', 1]], 'v'), ['positionFns.js', 50], ['domFns.js', 110]], 'h'),
    ['Draggable.js', 275], ['DraggableCore.js', 290],
  ], 'v'),
  g('@ant-design', 335, [
    band(380, [
      ['colors/dist/index.esm.js', 32],
      g('icons/es', 285, [
        band(65, [['utils.js', 40], g('components', 170, [band(30, [[T, 1], [T, 1]], 'v'), [T, 8]], 'h')], 'v'),
        g('icons', 200, iconsKids, 'v'),
      ], 'h'),
    ], 'h'),
    g('icons-svg/es/asn', 455, asnKids, 'h'),
  ], 'v'),
  g('react-dom', 440, [['cjs/react-dom.production.min.js', 1]]),
  g('react-grid-layout', 455, [g('build', 1, [
    band(155, [[T, 10], ['fastRGLPropsEqual.js', 50], ['calculateUtils.js', 85], ['ReactGridLayoutPropTypes.js', 110], ['components/WithProvider.js', 135]], 'h'),
    band(560, [band(285, [['ResponsiveReactGridLayout.js', 140], ['utils.js', 195], ['GridItem.js', 200]], 'v'), ['ReactGridLayout.js', 135]], 'h'),
  ], 'v')]),
];
const vendorModules: Spec[] = [
  band(50, vendorRow1, 'h'), band(184, vendorRow2, 'h'), band(291, vendorRow3, 'h'), band(415, vendorRow4, 'h'), band(482, vendorRow5, 'h'), band(973, vendorRow6, 'h'),
  ['moment/dist/moment.js', 369], ['lodash/lodash.js', 1278],
];

const chunks: Spec = band(1, [
  band(374, [
    ['assets/vendor3.f372fed3.js', 5],
    g('assets/vendor2.2e3d7bf3.js', 1453, [g('node_modules', 1, vendor2Modules, 'v')]),
  ], 'v'),
  band(912, [
    g('assets/vendor1.613bc99e.js', 688, [g('node_modules', 1, vendor1Modules, 'h')]),
    g('assets/index.5c68fd62.js', 770, indexChunk, 'v'),
  ], 'v'),
  g('assets/antdChunk.a18e8108.js', 687, [g('node_modules', 1, antdModules, 'v')]),
  g('assets/vendor.6827d215.js', 742, [g('node_modules', 1, vendorModules, 'v')]),
], 'h');

const PALETTES: Record<string, string[]> = {
  'assets/vendor3.f372fed3.js': ['#e3b4e3'],
  'assets/vendor2.2e3d7bf3.js': ['#c0ecec', '#a7e2e3', '#8ad8da', '#77d0d3', '#66c7cb'],
  'assets/vendor1.613bc99e.js': ['#bfe9b8', '#a5e298', '#8bd87b', '#72cf60', '#61bf4e', '#52b040'],
  'assets/index.5c68fd62.js': ['#e3aeae', '#d68d8d', '#c97272', '#c05a5a', '#b63c3c', '#9a2d2d', '#7f2525', '#6a1f1f'],
  'assets/antdChunk.a18e8108.js': ['#b1b3e6', '#8a8edf', '#6e72d7', '#4b50ca', '#3c40c2', '#2b30b4', '#232896'],
  'assets/vendor.6827d215.js': ['#ebeab6', '#e1df8c', '#dcda7c', '#d3d164', '#c5c34f', '#bab83f'],
};
// the chunks keep a little more room on some sides than the other blocks: left, right, bottom
const CHUNK_PAD: Record<string, number[]> = {
  'assets/vendor2.2e3d7bf3.js': [0, 0, 3.5],
  'assets/vendor1.613bc99e.js': [0, 2, 3.5],
  'assets/index.5c68fd62.js': [4.5, 2.5, 0],
  'assets/antdChunk.a18e8108.js': [0, 0, 3.5],
  'assets/vendor.6827d215.js': [0, 0, 3.5],
};
const NO_PAD = [0, 0, 0];

const RAW = 8;
const WIDTH = 2756;
const HEIGHT = 1534;
const EDGE = 1.75;
const HEADER = 36;
const ROOT_BOX = { x: 8.25, y: 42.25, w: 2730.5, h: 1470.5 };

// The treemap always cuts along the long side of what is left. The blocks of
// this picture are not always cut that way, so an empty filler trims the box first.
const SEAM = { name: '', value: 1e-6 };
function toNode([name, , kids, dir]: Spec, w: number, h: number, dw: number, dh: number): any {
  if (!kids) return { name, value: w * h };
  const [pl, pr, pb] = CHUNK_PAD[name] ?? NO_PAD;
  const iw = name ? dw - 4 * EDGE - pl - pr : dw;
  const ih = name ? dh - 3 * EDGE - HEADER - pb : dh;
  if (kids.length === 1) return { name, children: [toNode(kids[0], w, h, iw, ih)] };
  const want = dir ?? (iw >= ih ? 'h' : 'v');
  const sum = kids.reduce((acc, k) => acc + k[1], 0);
  // sizes were read without the gaps between the boxes, so each share gets its gap back
  const span = want === 'h' ? iw : ih;
  const gap = 2 * EDGE;
  const free = Math.max(span - kids.length * gap, span * 0.2);
  const parts = kids.map((k) => ((k[1] / sum) * free + gap) / (free + kids.length * gap));
  const tail = parts[parts.length - 1] + parts[parts.length - 2];
  const children: any[] = [];
  const filler = (area: number) => children.push({ name: '', value: area }, SEAM);
  let rw = w;
  let rh = h;
  if (want === 'h' && rh > 0.9 * rw * tail) {
    if (rw > rh) { const nw = rh * 0.99; filler((rw - nw) * rh); rw = nw; }
    const nh = 0.9 * rw * tail;
    filler(rw * (rh - nh));
    rh = nh;
  }
  if (want === 'v' && rw > 0.9 * rh * tail) {
    if (rh >= rw) { const nh = rw * 0.99; filler((rh - nh) * rw); rh = nh; }
    const nw = 0.9 * rh * tail;
    filler((rw - nw) * rh);
    rw = nw;
  }
  kids.forEach((k, i) => {
    const f = parts[i];
    if (i) children.push(SEAM);
    children.push(want === 'h' ? toNode(k, rw * f, rh, iw * f, ih) : toNode(k, rw, rh * f, iw, ih * f));
  });
  return { name, children };
}
const treeData = toNode(chunks, WIDTH * RAW, HEIGHT * RAW, ROOT_BOX.w, ROOT_BOX.h).children;

const pen = document.createElement('canvas').getContext('2d') as CanvasRenderingContext2D;
pen.font = '100px Inter';

function label(text: string, cx: number, cy: number, w: number, h: number, fill: string) {
  const fit = ((w - 4) / pen.measureText(text).width) * 100;
  const size = Math.max(Math.min(21.5, fit, h * 0.8), 1);
  const [r, gr, b] = [1, 3, 5].map((i) => parseInt(fill.slice(i, i + 2), 16));
  const dark = 0.299 * r + 0.587 * gr + 0.114 * b < 105;
  return (
    <text x={cx} y={cy} fontSize={size} fontFamily="Inter" textAnchor="middle" dominantBaseline="central" fill={dark ? '#fff' : '#111'}>
      {text}
    </text>
  );
}

// fillers and seams have no name and no children, so they drop out of the bounds
function boundsOf(kids: any[]) {
  const real = kids.filter((k) => k.name || k.children);
  const x0 = Math.min(...real.map((k) => k.x));
  const y0 = Math.min(...real.map((k) => k.y));
  const x1 = Math.max(...real.map((k) => k.x + k.width));
  const y1 = Math.max(...real.map((k) => k.y + k.height));
  return { x: x0, y: y0, width: x1 - x0, height: y1 - y0 };
}

function place(child: any, bounds: any, box: Box): Box {
  const sx = box.w / bounds.width;
  const sy = box.h / bounds.height;
  return { x: box.x + (child.x - bounds.x) * sx, y: box.y + (child.y - bounds.y) * sy, w: child.width * sx, h: child.height * sy };
}

function drawKids(kids: any[], box: Box, level: number, colors: string[], key: string): any {
  const bounds = boundsOf(kids);
  return kids.map((c, i) => drawNode(c, place(c, bounds, box), level, colors, `${key}.${i}`));
}

function drawNode(node: any, box: Box, level: number, colors: string[], key: string): any {
  const kids = node.children;
  if (!node.name && !kids) return null;
  if (!node.name) return <g key={key}>{drawKids(kids, box, level, colors, key)}</g>;
  const palette = level === 0 ? PALETTES[node.name] : colors;
  const r = { x: box.x + EDGE, y: box.y + EDGE, w: Math.max(box.w - 2 * EDGE, 0.5), h: Math.max(box.h - 2 * EDGE, 0.5) };
  const fill = palette[Math.min(level, palette.length - 1)];
  const rect = <rect x={r.x} y={r.y} width={r.w} height={r.h} rx={Math.min(6, r.w / 2, r.h / 2)} fill={fill} />;
  if (!kids) {
    return <g key={key}>{rect}{label(node.name, r.x + r.w / 2, r.y + r.h / 2, r.w, r.h, fill)}</g>;
  }
  const [pl, pr, pb] = CHUNK_PAD[node.name] ?? NO_PAD;
  const inner = { x: r.x + EDGE + pl, y: r.y + HEADER, w: r.w - 2 * EDGE - pl - pr, h: r.h - HEADER - EDGE - pb };
  return (
    <g key={key}>
      {rect}
      {label(node.name, r.x + r.w / 2, r.y + HEADER / 2, r.w, HEADER, fill)}
      {drawKids(kids, inner, level + 1, palette, key)}
    </g>
  );
}

function renderTree(props: any) {
  if (props.depth !== 0) return null;
  return (
    <g>
      <rect x={7} y={7} width={2733} height={1508} rx={6} fill="#e6e6e6" />
      <text x={1373} y={25} fontSize={20} fontFamily="Inter" textAnchor="middle" dominantBaseline="central" fill="#111">root</text>
      {drawKids(props.children, ROOT_BOX, 0, [], 'n')}
    </g>
  );
}

export default function App() {
  return (
    <div style={{ position: 'fixed', left: 0, top: 0, width: WIDTH, height: HEIGHT, overflow: 'hidden', background: '#f6efe4' }}>
      <div style={{ position: 'absolute', left: 133, top: 0, width: 259, height: 2, background: '#6f6c68' }} />
      <div style={{ position: 'absolute', left: 548, top: 0, width: 208, height: 2, background: '#6f6c68' }} />
      <Treemap
        width={WIDTH * RAW}
        height={HEIGHT * RAW}
        data={treeData}
        dataKey="value"
        nameKey="name"
        isAnimationActive={false}
        content={renderTree as any}
      />
      <div style={{ position: 'absolute', left: 2165, top: 1362, fontSize: 83, lineHeight: '110px', fontWeight: 500, color: '#fff', whiteSpace: 'pre', fontFamily: '"Noto Sans CJK SC"', textShadow: '6px 6px 0 #9d9a5c' }}>
        知乎 @旺旺队
      </div>
    </div>
  );
}
